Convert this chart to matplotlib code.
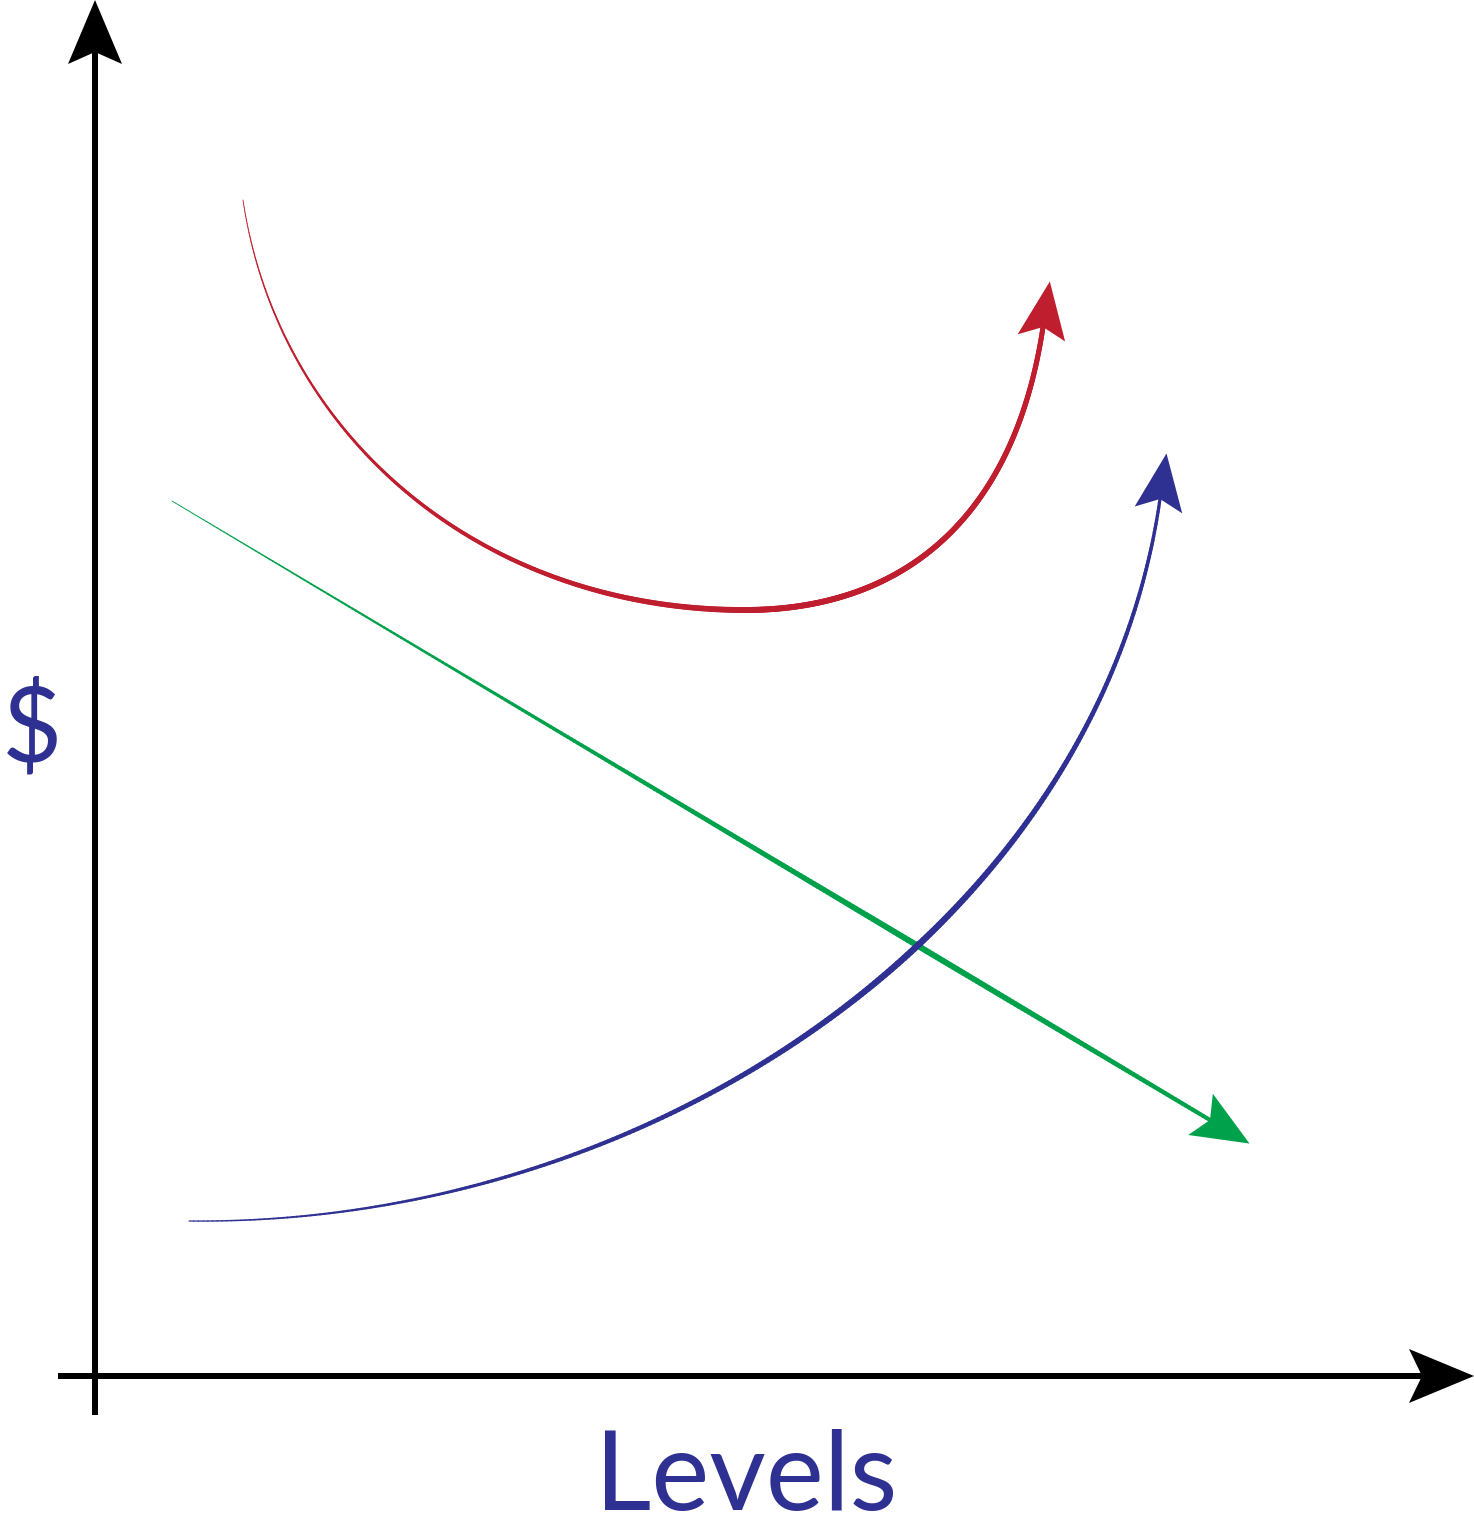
import numpy as np
import matplotlib
matplotlib.use("Agg")
import matplotlib.pyplot as plt
from matplotlib.bezier import BezierSegment
from matplotlib.collections import LineCollection
from matplotlib.patches import Polygon

W, H = 1474, 1536

# cubic bezier control points (pixel space, y grows down)
RED_X = [243, 278, 480, 745, 895, 1013, 1043]
RED_Y = [200, 435, 610, 610, 610, 527, 327]
BLUE_X = [189, 659, 1100, 1160]
BLUE_Y = [1221, 1226, 919, 499]
GREEN_X = [172, 1210]
GREEN_Y = [501, 1120]

# axis lines (start, end at arrow notch)
YAXIS_X = [95, 95]
YAXIS_Y = [1415, 52]
XAXIS_X = [58, 1422]
XAXIS_Y = [1376, 1376]

X_LABEL = "Levels"
Y_LABEL = "$"

RED = "#be1e2d"
BLUE = "#2e3192"
GREEN = "#00a14b"
PX = 0.72  # points per pixel at dpi 100


def sample(xs, ys, n=300):
    pts = np.column_stack([xs, ys]).astype(float)
    if len(pts) == 2:
        segs = [pts]
    else:
        segs = [pts[i:i + 4] for i in range(0, len(pts) - 1, 3)]
    t = np.linspace(0, 1, n)
    return np.vstack([BezierSegment(s)(t) for s in segs])


def taper(ax, pts, frac, widths, color):
    d = np.hypot(*np.diff(pts, axis=0).T)
    s = np.concatenate([[0], np.cumsum(d)]) / d.sum()
    mid = (s[:-1] + s[1:]) / 2
    lw = np.interp(mid, frac, widths) * PX
    segs = np.stack([pts[:-1], pts[1:]], axis=1)
    ax.add_collection(LineCollection(segs, linewidths=lw, colors=color,
                                     capstyle="round", joinstyle="round"))


def head(ax, end, direction, length, half, notch, color):
    u = np.asarray(direction, float)
    u = u / np.hypot(*u)
    n = np.array([-u[1], u[0]])
    end = np.asarray(end, float)
    tip = end + u * notch
    base = tip - u * length
    ax.add_patch(Polygon([tip, base + n * half, end, base - n * half],
                         closed=True, facecolor=color, edgecolor="none"))


fig = plt.figure(figsize=(W / 100, H / 100), dpi=100)
ax = fig.add_axes([0, 0, 1, 1])
ax.set_xlim(0, W)
ax.set_ylim(H, 0)
ax.axis("off")

# axes
ax.plot(YAXIS_X, YAXIS_Y, color="black", lw=6 * PX, solid_capstyle="butt")
ax.plot(XAXIS_X, XAXIS_Y, color="black", lw=6 * PX, solid_capstyle="butt")
head(ax, (YAXIS_X[1], YAXIS_Y[1]), (0, YAXIS_Y[1] - YAXIS_Y[0]), 64, 27, 52, "black")
head(ax, (XAXIS_X[1], XAXIS_Y[1]), (XAXIS_X[1] - XAXIS_X[0], 0), 65, 27, 52, "black")

# curves
for xs, ys, frac, widths, col in [
    (GREEN_X, GREEN_Y, [0, 0.72, 1], [0.8, 6.0, 4.0], GREEN),
    (BLUE_X, BLUE_Y, [0, 0.6, 1], [1.2, 6.5, 3.2], BLUE),
    (RED_X, RED_Y, [0, 0.62, 1], [0.8, 6.0, 5.0], RED),
]:
    pts = sample(xs, ys)
    taper(ax, pts, frac, widths, col)
    head(ax, (xs[-1], ys[-1]), (xs[-1] - xs[-2], ys[-1] - ys[-2]), 57, 24, 46, col)

ax.text(746, 1510, X_LABEL, fontsize=79, family="Lato", color=BLUE,
        ha="center", va="baseline")
ax.text(32, 762, Y_LABEL, fontsize=75, family="Lato", color=BLUE,
        ha="center", va="baseline")

fig.savefig("out.png", dpi=100)
